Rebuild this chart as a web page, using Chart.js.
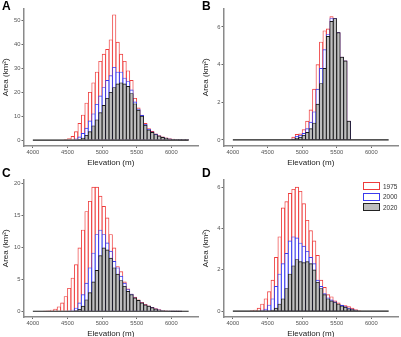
<!DOCTYPE html>
<html>
<head>
<meta charset="utf-8">
<script src="https://cdn.jsdelivr.net/npm/chart.js@4"></script>
<style>
body { margin: 0; width: 401px; height: 337px; overflow: hidden; background: #fff; position: relative;
       font-family: "Liberation Sans", Arial, sans-serif; }
canvas { position: absolute; }
.tag { position: absolute; font-weight: bold; font-size: 12px; color: #000; line-height: 12px; }
.legend { position: absolute; left: 363px; top: 181px; font-size: 6.5px; color: #333; }
.legend div { height: 10.5px; display: flex; align-items: center; }
.legend span { display: inline-block; width: 17px; height: 8px; box-sizing: border-box; margin-right: 3px; }
</style>
</head>
<body>
<canvas id="pA" width="200" height="168" style="left:0;top:0"></canvas>
<canvas id="pB" width="200" height="168" style="left:200px;top:0"></canvas>
<canvas id="pC" width="200" height="168" style="left:0;top:171px"></canvas>
<canvas id="pD" width="200" height="168" style="left:200px;top:171px"></canvas>
<div class="tag" style="left:2px;top:0">A</div>
<div class="tag" style="left:202px;top:0">B</div>
<div class="tag" style="left:2px;top:167px">C</div>
<div class="tag" style="left:202px;top:167px">D</div>
<div class="legend">
  <div><span style="border:1px solid #ee3b3b;background:#fff"></span>1975</div>
  <div><span style="border:1px solid #3b3bee;background:#fff"></span>2000</div>
  <div><span style="border:1px solid #222;background:#bebebe"></span>2020</div>
</div>
<script>
// elevation bin centres (m), 50 m bins
const elevation = [4025, 4075, 4125, 4175, 4225, 4275, 4325, 4375, 4425, 4475,
                   4525, 4575, 4625, 4675, 4725, 4775, 4825, 4875, 4925, 4975,
                   5025, 5075, 5125, 5175, 5225, 5275, 5325, 5375, 5425, 5475,
                   5525, 5575, 5625, 5675, 5725, 5775, 5825, 5875, 5925, 5975,
                   6025, 6075, 6125, 6175, 6225];
const binWidth = 50;
const years = ['1975', '2000', '2020'];
const xTicks = [4000, 4500, 5000, 5500, 6000];

// panel A
const a1975 = [0, 0, 0, 0, 0, 0, 0, 0, 0, 0.2, 0.6, 1.5, 3.5, 7, 10.5, 15.5, 20, 24, 28.5, 33,
               36, 38, 42, 52.5, 41, 36, 33, 29, 25, 17.5, 13.5, 10.5, 7, 4.8, 3.6, 2.6, 1.9, 1.3, 0.9, 0.6,
               0.35, 0.2, 0.1, 0.05, 0.02];
const a2000 = [0, 0, 0, 0, 0, 0, 0, 0, 0, 0, 0, 0, 0.5, 1.3, 2.8, 5, 8, 11, 15, 18.5,
               22, 25, 27, 30.5, 28.5, 28.5, 26, 24.5, 21, 16, 13, 10.3, 6.6, 4.5, 3.4, 2.5, 1.8, 1.2, 0.8, 0.5,
               0.3, 0.17, 0.09, 0.04, 0.02];
const a2020 = [0, 0, 0, 0, 0, 0, 0, 0, 0, 0, 0, 0, 0, 0.3, 0.8, 2, 3.5, 6, 8.5, 11.5,
               14.5, 17.5, 20, 22, 23.5, 24, 23.5, 22.5, 19.5, 15.2, 12.5, 10, 6.2, 4.2, 3.2, 2.3, 1.7, 1.1, 0.7, 0.45,
               0.25, 0.15, 0.08, 0.04, 0.02];
const aTicks = [0, 10, 20, 30, 40, 50];

// panel B
const b1975 = [0, 0, 0, 0, 0, 0, 0, 0, 0, 0, 0, 0, 0, 0, 0, 0, 0, 0.15, 0.3, 0.32,
               0.55, 1.0, 1.6, 2.7, 4.0, 5.2, 5.8, 5.9, 6.55, 6.45, 5.7, 4.4, 4.2, 1.0, 0, 0, 0, 0, 0, 0,
               0, 0, 0, 0, 0];
const b2000 = [0, 0, 0, 0, 0, 0, 0, 0, 0, 0, 0, 0, 0, 0, 0, 0, 0, 0.05, 0.2, 0.25,
               0.35, 0.6, 0.95, 1.5, 2.7, 3.8, 4.8, 5.6, 6.45, 6.45, 5.7, 4.4, 4.2, 1.0, 0, 0, 0, 0, 0, 0,
               0, 0, 0, 0, 0];
const b2020 = [0, 0, 0, 0, 0, 0, 0, 0, 0, 0, 0, 0, 0, 0, 0, 0, 0, 0.05, 0.1, 0.15,
               0.25, 0.4, 0.6, 0.9, 1.9, 3.0, 3.8, 5.5, 6.3, 6.45, 5.7, 4.4, 4.2, 1.0, 0, 0, 0, 0, 0, 0,
               0, 0, 0, 0, 0];
const bTicks = [0, 2, 4, 6];

// panel C
const c1975 = [0, 0, 0, 0.05, 0.1, 0.2, 0.35, 0.7, 1.3, 2.3, 3.6, 5.2, 7.3, 9.9, 12.7, 15.6, 17.2, 19.4, 19.4, 18,
               16.4, 14.6, 12, 9.9, 7, 6.2, 4.6, 3.5, 2.7, 2.2, 1.8, 1.4, 1.1, 0.85, 0.6, 0.4, 0.25, 0.15, 0.1, 0.06,
               0.04, 0.02, 0.01, 0, 0];
const c2000 = [0, 0, 0, 0, 0, 0, 0, 0, 0, 0, 0.05, 0.2, 0.5, 1.3, 2.6, 4.4, 6.8, 9.1, 12, 12.7,
               12, 10.7, 9.4, 7.8, 6.8, 5.5, 4.4, 3.4, 2.7, 2.1, 1.7, 1.3, 1.0, 0.8, 0.57, 0.37, 0.22, 0.12, 0.08, 0.05,
               0.03, 0.02, 0.01, 0, 0];
const c2020 = [0, 0, 0, 0, 0, 0, 0, 0, 0, 0, 0, 0, 0.1, 0.3, 0.8, 1.8, 2.9, 4.6, 6.4, 8.7,
               9.9, 9.6, 8.3, 6.8, 5.8, 4.8, 3.9, 3.1, 2.6, 2.1, 1.7, 1.3, 1.0, 0.8, 0.56, 0.35, 0.2, 0.1, 0.07, 0.05,
               0.03, 0.02, 0.01, 0, 0];
const cTicks = [0, 5, 10, 15, 20];

// panel D
const d1975 = [0, 0, 0, 0, 0, 0.03, 0.06, 0.15, 0.35, 0.6, 0.95, 1.5, 2.6, 3.6, 5.0, 5.3, 5.7, 5.9, 6.0, 5.8,
               5.2, 4.4, 3.9, 3.4, 2.7, 1.5, 1.15, 0.8, 0.7, 0.5, 0.4, 0.3, 0.27, 0.22, 0.15, 0.08, 0.03, 0, 0, 0,
               0, 0, 0, 0, 0];
const d2000 = [0, 0, 0, 0, 0, 0, 0, 0, 0.05, 0.1, 0.3, 0.6, 1.2, 1.8, 2.3, 2.8, 3.4, 3.6, 3.55, 3.3,
               3.15, 2.9, 2.6, 2.3, 1.5, 1.2, 0.85, 0.65, 0.55, 0.45, 0.35, 0.28, 0.22, 0.15, 0.1, 0.05, 0, 0, 0, 0,
               0, 0, 0, 0, 0];
const d2020 = [0, 0, 0, 0, 0, 0, 0, 0, 0, 0, 0, 0.05, 0.15, 0.35, 0.6, 1.1, 1.8, 2.2, 2.5, 2.4,
               2.35, 2.4, 2.3, 2.0, 1.4, 1.1, 0.8, 0.6, 0.5, 0.42, 0.35, 0.25, 0.2, 0.12, 0.08, 0.03, 0, 0, 0, 0,
               0, 0, 0, 0, 0];
const dTicks = [0, 2, 4, 6];

const lineRed = '#ee3b3b';
const lineBlue = '#3b3bee';
const lineBlack = '#1a1a1a';
const fillGrey = '#bebebe';

function toPoints(values) {
    return elevation.map((e, i) => ({ x: e, y: values[i] }));
}

function makePanel(id, s1975, s2000, s2020, yTicks, yMin, yMax) {
    const ctx = document.getElementById(id).getContext('2d');
    const first = elevation[0] - binWidth / 2;
    const last = elevation[elevation.length - 1] + binWidth / 2;
    return new Chart(ctx, {
        type: 'bar',
        data: {
            datasets: [
                {
                    type: 'line',
                    data: [{ x: first, y: 0 }, { x: last, y: 0 }],
                    borderColor: lineBlack,
                    borderWidth: 1.2,
                    pointRadius: 0,
                    order: 0
                },
                {
                    label: years[2],
                    data: toPoints(s2020),
                    backgroundColor: fillGrey,
                    borderColor: lineBlack,
                    borderWidth: 0.9,
                    order: 1
                },
                {
                    label: years[1],
                    data: toPoints(s2000),
                    backgroundColor: '#ffffff',
                    borderColor: lineBlue,
                    borderWidth: 0.9,
                    order: 2
                },
                {
                    label: years[0],
                    data: toPoints(s1975),
                    backgroundColor: '#ffffff',
                    borderColor: lineRed,
                    borderWidth: 0.9,
                    order: 3
                }
            ]
        },
        options: {
            responsive: false,
            animation: false,
            devicePixelRatio: 1,
            layout: { padding: { top: 8.5, right: 2, left: 0, bottom: 0 } },
            datasets: {
                bar: { grouped: false, barPercentage: 1, categoryPercentage: 1 }
            },
            plugins: {
                legend: { display: false },
                tooltip: { enabled: false }
            },
            scales: {
                x: {
                    type: 'linear',
                    offset: false,
                    min: 3865,
                    max: 6385,
                    afterBuildTicks: scale => { scale.ticks = xTicks.map(v => ({ value: v })); },
                    afterFit: scale => { scale.height = 22; },
                    grid: { drawOnChartArea: false, drawTicks: true, tickLength: 2, color: '#666', offset: false },
                    border: { display: true, color: '#8a8a8a', width: 1.5 },
                    ticks: {
                        color: '#555',
                        padding: 1,
                        maxRotation: 0,
                        font: { family: 'Liberation Sans', size: 5.8 },
                        callback: v => String(v)
                    },
                    title: {
                        display: true,
                        text: 'Elevation (m)',
                        color: '#222',
                        padding: { top: 1, bottom: 0 },
                        font: { family: 'Liberation Sans', size: 8 }
                    }
                },
                y: {
                    min: yMin,
                    max: yMax,
                    afterBuildTicks: scale => { scale.ticks = yTicks.map(v => ({ value: v })); },
                    afterFit: scale => { scale.width = 23.5; },
                    grid: { drawOnChartArea: false, drawTicks: true, tickLength: 2, color: '#666' },
                    border: { display: true, color: '#8a8a8a', width: 1.5 },
                    ticks: {
                        color: '#555',
                        padding: 1,
                        font: { family: 'Liberation Sans', size: 5.8 }
                    },
                    title: {
                        display: true,
                        text: 'Area (km²)',
                        color: '#222',
                        padding: { top: 1, bottom: 1 },
                        font: { family: 'Liberation Sans', size: 8 }
                    }
                }
            }
        }
    });
}

makePanel('pA', a1975, a2000, a2020, aTicks, -2.5, 55.1);
makePanel('pB', b1975, b2000, b2020, bTicks, -0.32, 6.98);
makePanel('pC', c1975, c2000, c2020, cTicks, -0.9, 20.6);
makePanel('pD', d1975, d2000, d2020, dTicks, -0.28, 6.37);
</script>
</body>
</html>
